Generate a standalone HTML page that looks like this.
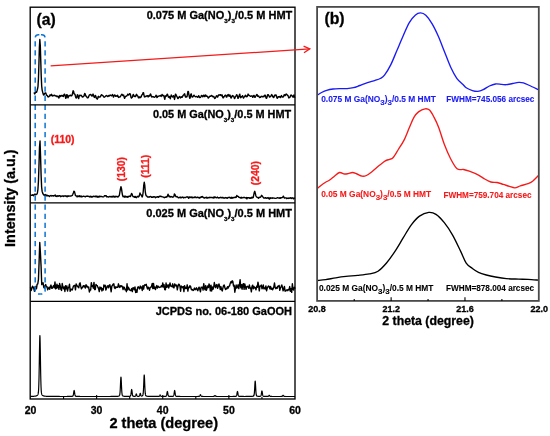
<!DOCTYPE html>
<html><head><meta charset="utf-8"><style>
html,body{margin:0;padding:0;background:#fff;}
svg{display:block;}
text.s{stroke-width:0.08px}
text{stroke-width:0.3px;font-family:"Liberation Sans",Arial,sans-serif;font-weight:bold;}
</style></head><body>
<svg width="550" height="436" viewBox="0 0 550 436">
<rect width="550" height="436" fill="#fff"/>
<g fill="none" stroke="#000" stroke-width="1.4" stroke-linejoin="round">
<polyline points="33.81,93.55 34.27,93.04 34.73,93.93 35.19,93.10 35.66,91.76 36.12,92.12 36.58,92.21 37.05,90.76 37.51,89.04 37.97,86.51 38.44,78.97 38.90,64.44 39.36,48.04 39.82,39.47 40.29,45.49 40.75,60.36 41.21,75.73 41.68,86.04 42.14,90.11 42.60,91.85 43.06,93.62 43.53,94.97 43.99,94.92 44.45,93.59 44.92,93.14 45.38,92.98 45.84,93.04 46.30,94.63 46.77,95.36 47.23,95.42 47.69,96.60 48.16,97.02 48.62,96.51 49.08,96.50 49.54,95.87 50.01,94.92 50.47,95.69 50.93,95.51 51.40,94.29 51.86,94.90 52.32,95.83 52.78,95.96 53.25,95.52 53.71,95.52 54.17,95.50 54.64,95.23 55.10,95.72 55.56,96.05 56.02,95.81 56.49,95.91 56.95,96.73 57.41,96.67 57.88,96.10 58.34,96.80 58.80,98.03 59.26,97.25 59.73,95.50 60.19,96.04 60.65,96.54 61.12,95.40 61.58,95.35 62.04,95.87 62.50,95.44 62.97,96.32 63.43,96.52 63.89,94.75 64.36,94.14 64.82,94.54 65.28,96.13 65.74,98.29 66.21,97.58 66.67,94.82 67.13,94.77 67.60,96.95 68.06,97.83 68.52,96.60 68.98,95.45 69.45,95.73 69.91,95.82 70.37,95.23 70.84,95.13 71.30,95.80 71.76,95.79 72.22,94.66 72.69,92.71 73.15,90.76 73.61,91.49 74.08,93.82 74.54,94.00 75.00,94.35 75.47,96.42 75.93,97.87 76.39,98.08 76.85,96.69 77.32,94.80 77.78,94.95 78.24,97.68 78.71,98.57 79.17,96.07 79.63,95.23 80.09,95.82 80.56,95.33 81.02,95.16 81.48,95.60 81.95,96.51 82.41,97.11 82.87,96.95 83.33,96.67 83.80,96.19 84.26,95.11 84.72,93.47 85.19,94.02 85.65,95.80 86.11,96.11 86.57,96.54 87.04,97.43 87.50,97.90 87.96,97.89 88.43,97.32 88.89,96.08 89.35,94.99 89.81,94.80 90.28,94.71 90.74,94.50 91.20,94.96 91.67,95.83 92.13,96.09 92.59,94.96 93.05,94.06 93.52,95.20 93.98,96.76 94.44,97.47 94.91,96.82 95.37,95.41 95.83,96.04 96.29,97.99 96.76,98.60 97.22,99.16 97.68,98.57 98.15,96.51 98.61,96.29 99.07,96.97 99.53,97.10 100.00,96.97 100.46,96.63 100.92,95.66 101.39,94.70 101.85,94.90 102.31,95.39 102.77,95.66 103.24,96.03 103.70,96.87 104.16,97.33 104.63,96.95 105.09,96.61 105.55,96.15 106.01,95.68 106.48,95.53 106.94,95.77 107.40,96.27 107.87,96.61 108.33,96.07 108.79,95.58 109.25,95.99 109.72,95.50 110.18,95.00 110.64,95.35 111.11,95.66 111.57,95.89 112.03,95.25 112.50,94.48 112.96,95.47 113.42,97.01 113.88,96.26 114.35,95.08 114.81,94.89 115.27,95.54 115.74,96.39 116.20,95.79 116.66,96.14 117.12,96.21 117.59,95.19 118.05,96.22 118.51,97.44 118.98,97.16 119.44,97.02 119.90,97.15 120.36,96.64 120.83,95.76 121.29,95.00 121.75,94.28 122.22,94.45 122.68,95.50 123.14,95.28 123.60,94.98 124.07,96.75 124.53,98.36 124.99,97.61 125.46,96.46 125.92,96.37 126.38,96.02 126.84,95.89 127.31,95.12 127.77,94.14 128.23,94.80 128.70,94.99 129.16,94.36 129.62,93.77 130.08,93.64 130.55,94.99 131.01,97.31 131.47,98.14 131.94,97.47 132.40,97.09 132.86,95.57 133.32,94.35 133.79,95.65 134.25,96.49 134.71,96.15 135.18,96.55 135.64,96.47 136.10,94.96 136.56,94.29 137.03,95.18 137.49,95.71 137.95,96.20 138.42,97.73 138.88,98.04 139.34,96.87 139.80,97.00 140.27,97.59 140.73,97.52 141.19,96.70 141.66,95.21 142.12,94.76 142.58,94.35 143.04,92.73 143.51,92.67 143.97,95.06 144.43,96.93 144.90,96.48 145.36,96.38 145.82,96.69 146.28,95.92 146.75,96.03 147.21,95.83 147.67,95.63 148.14,96.94 148.60,96.55 149.06,95.56 149.53,96.03 149.99,95.20 150.45,93.91 150.91,94.81 151.38,96.45 151.84,97.03 152.30,96.71 152.77,96.57 153.23,96.60 153.69,96.81 154.15,97.31 154.62,97.07 155.08,96.84 155.54,96.39 156.01,95.17 156.47,95.80 156.93,97.51 157.39,97.15 157.86,96.30 158.32,96.21 158.78,96.09 159.25,95.97 159.71,95.89 160.17,95.46 160.63,95.52 161.10,96.52 161.56,95.65 162.02,94.42 162.49,95.13 162.95,95.87 163.41,95.69 163.87,95.44 164.34,97.79 164.80,99.25 165.26,96.92 165.73,95.83 166.19,96.22 166.65,95.44 167.11,94.11 167.58,94.54 168.04,96.13 168.50,97.21 168.97,97.45 169.43,96.45 169.89,97.46 170.35,98.72 170.82,96.49 171.28,95.04 171.74,95.78 172.21,96.60 172.67,97.10 173.13,96.43 173.59,95.71 174.06,97.35 174.52,99.44 174.98,97.39 175.45,94.18 175.91,94.41 176.37,95.67 176.83,96.36 177.30,97.30 177.76,98.43 178.22,98.46 178.69,97.62 179.15,96.84 179.61,96.47 180.07,97.17 180.54,97.89 181.00,97.20 181.46,96.78 181.93,97.38 182.39,96.99 182.85,95.89 183.31,95.20 183.78,95.03 184.24,94.05 184.70,93.77 185.17,96.11 185.63,97.08 186.09,96.67 186.56,97.07 187.02,96.69 187.48,94.24 187.94,91.47 188.41,91.71 188.87,94.27 189.33,96.85 189.80,98.38 190.26,97.47 190.72,94.61 191.18,93.81 191.65,95.71 192.11,96.96 192.57,97.08 193.04,96.67 193.50,95.69 193.96,95.15 194.42,95.76 194.89,96.22 195.35,96.60 195.81,96.80 196.28,96.52 196.74,96.50 197.20,96.76 197.66,97.21 198.13,96.84 198.59,95.72 199.05,96.28 199.52,97.59 199.98,97.47 200.44,97.35 200.90,96.85 201.37,95.58 201.83,95.37 202.29,96.16 202.76,96.87 203.22,96.38 203.68,95.10 204.14,95.08 204.61,96.66 205.07,96.63 205.53,95.02 206.00,95.33 206.46,96.18 206.92,96.20 207.38,96.20 207.85,97.13 208.31,98.09 208.77,97.56 209.24,97.03 209.70,96.49 210.16,96.01 210.62,96.35 211.09,95.96 211.55,95.41 212.01,95.76 212.48,96.41 212.94,96.87 213.40,96.35 213.86,96.45 214.33,97.87 214.79,98.49 215.25,98.23 215.72,97.40 216.18,96.27 216.64,95.71 217.10,96.27 217.57,97.10 218.03,96.14 218.49,94.93 218.96,94.89 219.42,95.02 219.88,95.21 220.34,94.64 220.81,94.59 221.27,95.77 221.73,95.49 222.20,95.04 222.66,97.23 223.12,97.98 223.59,96.77 224.05,96.98 224.51,96.27 224.97,95.42 225.44,95.21 225.90,95.46 226.36,97.06 226.83,97.01 227.29,95.69 227.75,94.97 228.21,94.57 228.68,95.69 229.14,96.20 229.60,94.92 230.07,95.15 230.53,96.72 230.99,97.98 231.45,97.84 231.92,96.15 232.38,95.59 232.84,96.20 233.31,96.02 233.77,96.34 234.23,97.95 234.69,98.51 235.16,97.25 235.62,96.51 236.08,95.85 236.55,94.78 237.01,94.89 237.47,96.41 237.93,98.38 238.40,98.16 238.86,96.67 239.32,95.00 239.79,94.18 240.25,96.55 240.71,97.82 241.17,96.70 241.64,96.93 242.10,96.57 242.56,95.62 243.03,97.08 243.49,98.11 243.95,97.11 244.41,96.71 244.88,96.28 245.34,95.26 245.80,96.15 246.27,96.74 246.73,96.09 247.19,96.45 247.65,95.39 248.12,94.09 248.58,94.76 249.04,95.48 249.51,95.59 249.97,95.84 250.43,96.38 250.89,96.26 251.36,96.00 251.82,95.75 252.28,96.27 252.75,97.36 253.21,96.87 253.67,95.44 254.13,95.48 254.60,97.14 255.06,97.37 255.52,96.45 255.99,95.89 256.45,94.97 256.91,94.47 257.37,95.21 257.84,96.38 258.30,96.39 258.76,96.08 259.23,97.01 259.69,97.46 260.15,97.31 260.62,97.22 261.08,96.46 261.54,96.28 262.00,96.67 262.47,96.86 262.93,96.44 263.39,96.16 263.86,96.68 264.32,96.15 264.78,95.13 265.24,95.21 265.71,96.81 266.17,98.28 266.63,98.29 267.10,96.85 267.56,94.86 268.02,94.61 268.48,95.06 268.95,95.73 269.41,97.00 269.87,96.99 270.34,96.59 270.80,96.30 271.26,95.21 271.72,94.58 272.19,95.28 272.65,96.51 273.11,97.12 273.58,97.51 274.04,96.94 274.50,95.27 274.96,95.20 275.43,95.54 275.89,94.85 276.35,95.64 276.82,97.52 277.28,98.31 277.74,97.85 278.20,96.74 278.67,96.63 279.13,97.04 279.59,96.61 280.06,97.06 280.52,97.53 280.98,96.29 281.44,95.55 281.91,96.28 282.37,97.08 282.83,97.10 283.30,96.93 283.76,96.14 284.22,94.65 284.68,94.82 285.15,95.61 285.61,94.87 286.07,94.03 286.54,94.10 287.00,94.78 287.46,95.22 287.92,95.36 288.39,96.83 288.85,97.93 289.31,97.55 289.78,97.56 290.24,96.64 290.70,95.26 291.16,95.07 291.63,95.62 292.09,96.02 292.55,96.20 293.02,97.27 293.48,96.51 293.94,95.04 294.40,96.81 294.87,97.75"/>
<polyline points="30.50,195.50 31.03,195.26 31.56,195.30 32.09,195.31 32.62,194.79 33.14,195.38 33.67,195.77 34.20,194.41 34.73,194.29 35.26,194.24 35.79,194.87 36.32,194.34 36.85,194.19 37.38,192.96 37.91,189.62 38.43,181.46 38.96,165.72 39.49,147.44 40.02,141.05 40.55,156.00 41.08,174.61 41.61,187.02 42.14,191.38 42.67,193.15 43.20,194.06 43.72,194.98 44.25,194.82 44.78,195.54 45.31,194.56 45.84,195.72 46.37,195.77 46.90,194.98 47.43,195.59 47.96,196.01 48.49,195.66 49.01,196.01 49.54,196.53 50.07,195.82 50.60,195.65 51.13,195.51 51.66,196.02 52.19,195.75 52.72,195.78 53.25,195.82 53.78,196.10 54.30,195.52 54.83,195.37 55.36,195.07 55.89,196.36 56.42,195.98 56.95,196.49 57.48,195.97 58.01,195.73 58.54,196.17 59.07,195.99 59.59,195.59 60.12,195.73 60.65,196.67 61.18,196.18 61.71,196.22 62.24,195.98 62.77,195.85 63.30,196.41 63.83,196.07 64.36,195.85 64.88,196.08 65.41,195.82 65.94,196.21 66.47,196.54 67.00,195.86 67.53,196.66 68.06,195.93 68.59,196.22 69.12,195.87 69.65,196.08 70.17,196.16 70.70,195.98 71.23,195.84 71.76,195.76 72.29,195.40 72.82,194.25 73.35,192.97 73.88,191.29 74.41,191.48 74.94,193.32 75.46,195.70 75.99,195.85 76.52,195.91 77.05,196.84 77.58,195.87 78.11,196.61 78.64,195.96 79.17,196.44 79.70,195.65 80.23,196.67 80.75,196.31 81.28,196.04 81.81,196.97 82.34,196.67 82.87,196.42 83.40,196.16 83.93,196.41 84.46,196.38 84.99,196.70 85.52,196.73 86.04,196.22 86.57,196.27 87.10,196.29 87.63,196.01 88.16,196.28 88.69,196.46 89.22,196.74 89.75,196.97 90.28,196.23 90.81,196.72 91.33,196.37 91.86,197.26 92.39,196.53 92.92,196.73 93.45,196.23 93.98,196.28 94.51,196.64 95.04,196.44 95.57,196.70 96.10,196.04 96.62,196.82 97.15,196.28 97.68,197.21 98.21,196.51 98.74,197.00 99.27,196.13 99.80,196.77 100.33,196.32 100.86,196.46 101.39,196.65 101.91,196.53 102.44,196.73 102.97,196.90 103.50,196.84 104.03,196.46 104.56,195.73 105.09,195.62 105.62,195.97 106.15,195.65 106.68,196.86 107.20,196.58 107.73,196.60 108.26,197.03 108.79,196.94 109.32,196.79 109.85,196.36 110.38,196.83 110.91,196.84 111.44,196.42 111.97,197.09 112.49,196.91 113.02,196.04 113.55,196.77 114.08,196.28 114.61,197.12 115.14,197.00 115.67,196.32 116.20,196.38 116.73,196.70 117.26,196.54 117.78,197.09 118.31,196.70 118.84,196.00 119.37,195.26 119.90,191.83 120.43,188.80 120.96,186.65 121.49,188.64 122.02,192.31 122.55,195.28 123.07,196.82 123.60,196.55 124.13,196.22 124.66,197.18 125.19,196.07 125.72,196.93 126.25,196.57 126.78,197.12 127.31,196.51 127.84,197.27 128.36,196.91 128.89,196.19 129.42,196.07 129.95,196.51 130.48,196.56 131.01,194.89 131.54,193.51 132.07,193.98 132.60,195.85 133.13,196.60 133.65,196.84 134.18,196.48 134.71,197.26 135.24,197.34 135.77,196.41 136.30,197.67 136.83,197.11 137.36,196.67 137.89,196.13 138.42,196.92 138.94,196.49 139.47,194.99 140.00,193.03 140.53,194.00 141.06,194.84 141.59,195.82 142.12,197.03 142.65,195.72 143.18,192.02 143.71,185.71 144.23,182.25 144.76,185.10 145.29,191.79 145.82,194.82 146.35,195.81 146.88,196.06 147.41,196.95 147.94,196.88 148.47,196.96 149.00,197.25 149.52,196.69 150.05,196.58 150.58,196.41 151.11,196.93 151.64,197.33 152.17,197.02 152.70,197.31 153.23,196.68 153.76,196.94 154.29,196.84 154.81,196.68 155.34,197.77 155.87,197.42 156.40,196.86 156.93,196.86 157.46,197.11 157.99,196.62 158.52,197.24 159.05,196.48 159.58,196.48 160.10,196.02 160.63,196.45 161.16,196.48 161.69,196.56 162.22,196.82 162.75,196.93 163.28,197.08 163.81,197.21 164.34,197.72 164.87,197.46 165.39,197.07 165.92,197.38 166.45,196.75 166.98,197.01 167.51,195.68 168.04,194.27 168.57,195.76 169.10,196.80 169.63,196.06 170.16,196.88 170.68,197.01 171.21,196.51 171.74,196.81 172.27,196.83 172.80,197.25 173.33,196.80 173.86,196.55 174.39,193.98 174.92,194.53 175.45,195.67 175.97,196.82 176.50,196.71 177.03,196.55 177.56,196.99 178.09,197.55 178.62,197.86 179.15,197.53 179.68,197.50 180.21,197.04 180.74,197.88 181.26,197.82 181.79,197.17 182.32,197.35 182.85,197.02 183.38,197.89 183.91,197.52 184.44,197.35 184.97,197.53 185.50,197.55 186.03,197.26 186.55,196.97 187.08,196.96 187.61,196.80 188.14,197.58 188.67,198.20 189.20,196.83 189.73,197.48 190.26,197.58 190.79,197.09 191.32,197.51 191.84,197.06 192.37,197.87 192.90,197.25 193.43,197.49 193.96,197.70 194.49,197.32 195.02,196.84 195.55,197.29 196.08,197.74 196.61,197.45 197.13,197.56 197.66,197.11 198.19,197.54 198.72,197.74 199.25,197.50 199.78,198.15 200.31,197.40 200.84,197.06 201.37,196.66 201.90,197.23 202.42,196.51 202.95,197.19 203.48,197.41 204.01,198.01 204.54,197.95 205.07,197.39 205.60,197.63 206.13,197.93 206.66,197.12 207.19,198.07 207.71,197.99 208.24,197.91 208.77,197.50 209.30,197.69 209.83,197.19 210.36,197.61 210.89,197.39 211.42,197.63 211.95,197.43 212.48,197.70 213.00,198.02 213.53,197.16 214.06,197.94 214.59,196.92 215.12,196.87 215.65,197.59 216.18,197.64 216.71,197.79 217.24,197.06 217.77,197.62 218.29,197.69 218.82,198.09 219.35,197.62 219.88,197.85 220.41,197.32 220.94,197.60 221.47,197.52 222.00,197.92 222.53,197.33 223.06,197.39 223.58,197.89 224.11,198.32 224.64,197.83 225.17,197.80 225.70,197.58 226.23,198.09 226.76,197.90 227.29,198.32 227.82,197.83 228.35,197.39 228.87,197.52 229.40,197.38 229.93,197.29 230.46,198.17 230.99,198.01 231.52,197.30 232.05,198.36 232.58,197.82 233.11,197.40 233.64,197.86 234.16,197.70 234.69,197.43 235.22,196.98 235.75,197.52 236.28,197.22 236.81,195.52 237.34,196.02 237.87,196.28 238.40,196.64 238.93,197.41 239.45,197.53 239.98,197.43 240.51,197.63 241.04,198.25 241.57,197.28 242.10,197.88 242.63,197.87 243.16,197.56 243.69,197.66 244.22,197.33 244.74,197.52 245.27,197.83 245.80,197.94 246.33,197.52 246.86,198.90 247.39,197.63 247.92,197.88 248.45,197.75 248.98,197.69 249.51,198.27 250.03,197.64 250.56,198.26 251.09,198.17 251.62,197.36 252.15,198.01 252.68,197.16 253.21,197.58 253.74,194.81 254.27,192.40 254.80,191.34 255.32,193.37 255.85,195.71 256.38,196.77 256.91,197.14 257.44,197.48 257.97,197.71 258.50,198.32 259.03,197.22 259.56,197.62 260.09,197.43 260.61,196.97 261.14,196.30 261.67,195.35 262.20,195.93 262.73,196.70 263.26,197.35 263.79,198.03 264.32,198.00 264.85,197.85 265.38,198.08 265.90,197.67 266.43,198.19 266.96,198.15 267.49,197.85 268.02,197.57 268.55,198.54 269.08,198.04 269.61,199.08 270.14,197.79 270.67,198.32 271.19,197.88 271.72,198.12 272.25,198.33 272.78,197.76 273.31,198.01 273.84,198.11 274.37,198.10 274.90,198.27 275.43,198.42 275.96,198.36 276.48,198.16 277.01,197.95 277.54,197.68 278.07,197.82 278.60,197.90 279.13,198.32 279.66,197.96 280.19,197.65 280.72,198.29 281.25,197.76 281.77,197.65 282.30,197.47 282.83,197.20 283.36,196.19 283.89,197.17 284.42,198.00 284.95,197.94 285.48,197.81 286.01,197.94 286.54,198.62 287.06,197.98 287.59,198.40 288.12,198.43 288.65,198.00 289.18,198.32 289.71,198.01 290.24,197.96 290.77,197.79 291.30,198.49 291.83,198.05 292.35,198.00 292.88,197.80 293.41,198.84 293.94,198.47 294.47,198.16 295.00,197.97"/>
<polyline points="30.50,287.30 31.16,290.55 31.82,288.48 32.48,286.29 33.15,286.97 33.81,288.47 34.47,291.34 35.13,286.61 35.79,286.49 36.45,288.83 37.11,284.31 37.77,283.86 38.44,279.66 39.10,261.87 39.76,242.53 40.42,253.21 41.08,266.19 41.74,284.67 42.40,283.42 43.06,282.67 43.73,287.05 44.39,288.10 45.05,285.79 45.71,284.51 46.37,286.86 47.03,286.72 47.69,289.80 48.35,288.43 49.02,287.29 49.68,289.24 50.34,286.50 51.00,285.02 51.66,288.23 52.32,288.28 52.98,286.66 53.64,285.52 54.31,287.71 54.97,282.06 55.63,288.82 56.29,288.48 56.95,284.09 57.61,287.73 58.27,285.66 58.93,289.35 59.60,283.56 60.26,285.97 60.92,289.45 61.58,290.44 62.24,283.52 62.90,287.04 63.56,288.81 64.22,286.85 64.89,291.48 65.55,285.63 66.21,288.86 66.87,285.89 67.53,291.00 68.19,287.96 68.85,287.16 69.51,284.27 70.18,291.33 70.84,289.29 71.50,289.20 72.16,289.91 72.82,288.16 73.48,285.98 74.14,285.53 74.80,285.43 75.47,289.88 76.13,283.84 76.79,285.56 77.45,286.04 78.11,287.11 78.77,287.77 79.43,283.87 80.09,282.80 80.76,286.37 81.42,288.89 82.08,287.91 82.74,286.75 83.40,285.63 84.06,286.92 84.72,285.81 85.38,288.06 86.05,284.71 86.71,286.70 87.37,286.24 88.03,287.67 88.69,287.06 89.35,292.01 90.01,289.87 90.67,289.94 91.34,282.58 92.00,286.22 92.66,285.72 93.32,288.18 93.98,282.33 94.64,289.64 95.30,289.46 95.96,284.52 96.63,285.23 97.29,285.63 97.95,287.41 98.61,288.67 99.27,291.63 99.93,286.90 100.59,288.91 101.25,287.59 101.92,290.93 102.58,288.75 103.24,290.02 103.90,284.83 104.56,286.64 105.22,285.28 105.88,290.10 106.54,288.26 107.21,286.19 107.87,285.83 108.53,287.75 109.19,285.22 109.85,284.71 110.51,287.65 111.17,291.79 111.83,286.09 112.50,285.44 113.16,284.16 113.82,283.83 114.48,287.77 115.14,288.49 115.80,286.78 116.46,287.51 117.12,287.13 117.79,287.25 118.45,283.83 119.11,286.16 119.77,287.45 120.43,285.67 121.09,286.41 121.75,285.79 122.41,286.91 123.08,289.49 123.74,286.94 124.40,287.56 125.06,289.67 125.72,289.39 126.38,291.67 127.04,283.77 127.70,290.01 128.37,287.24 129.03,288.56 129.69,290.05 130.35,290.57 131.01,290.47 131.67,288.59 132.33,291.61 132.99,287.60 133.66,287.84 134.32,289.76 134.98,286.85 135.64,292.47 136.30,289.99 136.96,292.34 137.62,287.62 138.28,286.78 138.95,287.85 139.61,288.95 140.27,286.08 140.93,288.02 141.59,287.11 142.25,290.46 142.91,285.61 143.57,289.14 144.24,285.53 144.90,284.82 145.56,285.31 146.22,284.28 146.88,287.07 147.54,288.92 148.20,287.10 148.86,288.08 149.53,290.21 150.19,287.38 150.85,287.26 151.51,286.31 152.17,283.55 152.83,288.57 153.49,283.34 154.15,288.45 154.82,287.10 155.48,289.55 156.14,287.09 156.80,285.55 157.46,288.06 158.12,286.17 158.78,286.99 159.44,287.48 160.11,287.12 160.77,287.01 161.43,285.66 162.09,286.99 162.75,282.88 163.41,287.01 164.07,284.78 164.73,289.60 165.40,289.86 166.06,283.03 166.72,287.37 167.38,286.73 168.04,284.72 168.70,287.96 169.36,285.79 170.02,282.97 170.69,286.05 171.35,286.23 172.01,286.69 172.67,283.82 173.33,287.64 173.99,287.85 174.65,283.86 175.31,284.85 175.98,286.04 176.64,285.01 177.30,289.87 177.96,286.65 178.62,284.12 179.28,284.62 179.94,286.20 180.60,291.20 181.27,286.07 181.93,286.79 182.59,287.68 183.25,286.61 183.91,291.58 184.57,285.77 185.23,288.55 185.89,287.43 186.56,288.51 187.22,284.83 187.88,291.12 188.54,287.25 189.20,287.67 189.86,285.72 190.52,286.23 191.18,289.02 191.85,289.96 192.51,289.53 193.17,290.52 193.83,289.52 194.49,288.10 195.15,289.80 195.81,289.29 196.47,287.82 197.14,289.54 197.80,290.68 198.46,288.43 199.12,287.15 199.78,289.35 200.44,291.78 201.10,287.28 201.76,287.46 202.43,287.30 203.09,290.09 203.75,283.60 204.41,288.16 205.07,289.84 205.73,285.57 206.39,290.35 207.05,288.31 207.72,285.99 208.38,287.55 209.04,283.87 209.70,285.90 210.36,290.92 211.02,285.21 211.68,290.97 212.34,286.95 213.01,289.24 213.67,287.27 214.33,282.52 214.99,286.07 215.65,287.72 216.31,284.96 216.97,284.60 217.63,288.26 218.30,286.18 218.96,284.03 219.62,286.21 220.28,289.50 220.94,286.73 221.60,289.73 222.26,290.99 222.92,287.87 223.59,285.44 224.25,285.07 224.91,287.73 225.57,289.61 226.23,288.28 226.89,288.81 227.55,286.65 228.21,288.09 228.88,286.25 229.54,286.15 230.20,283.38 230.86,281.69 231.52,282.78 232.18,280.82 232.84,281.58 233.50,286.02 234.17,285.29 234.83,292.20 235.49,288.26 236.15,285.04 236.81,287.98 237.47,287.05 238.13,284.81 238.79,288.52 239.46,284.53 240.12,279.71 240.78,287.77 241.44,284.79 242.10,289.21 242.76,284.73 243.42,283.63 244.08,289.39 244.75,283.92 245.41,286.65 246.07,289.33 246.73,286.59 247.39,286.25 248.05,286.72 248.71,288.35 249.37,284.98 250.04,288.04 250.70,288.06 251.36,291.84 252.02,286.32 252.68,285.19 253.34,288.74 254.00,286.43 254.66,287.94 255.33,287.68 255.99,289.90 256.65,286.12 257.31,287.34 257.97,282.20 258.63,285.70 259.29,290.81 259.95,286.15 260.62,286.10 261.28,284.99 261.94,288.74 262.60,287.87 263.26,284.96 263.92,288.81 264.58,287.91 265.24,288.90 265.91,285.92 266.57,290.86 267.23,288.03 267.89,286.87 268.55,285.99 269.21,286.52 269.87,288.81 270.53,286.41 271.20,289.22 271.86,288.17 272.52,289.77 273.18,288.66 273.84,286.83 274.50,282.98 275.16,287.65 275.82,288.72 276.49,287.46 277.15,288.34 277.81,286.24 278.47,286.50 279.13,285.40 279.79,290.32 280.45,287.87 281.11,286.58 281.78,284.90 282.44,287.46 283.10,290.88 283.76,288.90 284.42,286.47 285.08,291.06 285.74,291.11 286.40,290.21 287.07,289.84 287.73,290.64 288.39,289.37 289.05,289.85 289.71,286.58 290.37,291.35 291.03,288.65 291.69,292.38 292.36,283.78 293.02,289.49 293.68,290.00 294.34,287.14 295.00,288.72"/>
<polyline points="30.50,396.41 30.63,396.40 30.76,396.40 30.90,396.40 31.03,396.40 31.16,396.39 31.29,396.39 31.43,396.39 31.56,396.38 31.69,396.38 31.82,396.37 31.95,396.37 32.09,396.37 32.22,396.36 32.35,396.36 32.48,396.35 32.62,396.35 32.75,396.34 32.88,396.33 33.01,396.33 33.14,396.32 33.28,396.31 33.41,396.31 33.54,396.30 33.67,396.29 33.81,396.28 33.94,396.27 34.07,396.26 34.20,396.25 34.34,396.24 34.47,396.22 34.60,396.21 34.73,396.20 34.86,396.18 35.00,396.16 35.13,396.14 35.26,396.12 35.39,396.10 35.53,396.08 35.66,396.05 35.79,396.02 35.92,395.99 36.05,395.96 36.19,395.92 36.32,395.88 36.45,395.83 36.58,395.78 36.72,395.72 36.85,395.65 36.98,395.58 37.11,395.49 37.24,395.39 37.38,395.28 37.51,395.14 37.64,394.98 37.77,394.79 37.91,394.53 38.04,394.18 38.17,393.69 38.30,392.95 38.43,391.84 38.57,390.18 38.70,387.75 38.83,384.32 38.96,379.70 39.10,373.80 39.23,366.69 39.36,358.71 39.49,350.47 39.63,342.96 39.76,337.52 39.89,335.50 40.02,337.52 40.15,342.96 40.29,350.47 40.42,358.71 40.55,366.69 40.68,373.80 40.82,379.70 40.95,384.32 41.08,387.75 41.21,390.18 41.34,391.84 41.48,392.95 41.61,393.69 41.74,394.18 41.87,394.53 42.01,394.79 42.14,394.98 42.27,395.14 42.40,395.28 42.53,395.39 42.67,395.49 42.80,395.58 42.93,395.65 43.06,395.72 43.20,395.78 43.33,395.83 43.46,395.88 43.59,395.92 43.72,395.96 43.86,395.99 43.99,396.02 44.12,396.05 44.25,396.08 44.39,396.10 44.52,396.12 44.65,396.14 44.78,396.16 44.92,396.18 45.05,396.20 45.18,396.21 45.31,396.22 45.44,396.24 45.58,396.25 45.71,396.26 45.84,396.27 45.97,396.28 46.11,396.29 46.24,396.30 46.37,396.31 46.50,396.31 46.63,396.32 46.77,396.33 46.90,396.33 47.03,396.34 47.16,396.35 47.30,396.35 47.43,396.36 47.56,396.36 47.69,396.36 47.82,396.37 47.96,396.37 48.09,396.38 48.22,396.38 48.35,396.38 48.49,396.39 48.62,396.39 48.75,396.39 48.88,396.40 49.01,396.40 49.15,396.40 49.28,396.41 49.41,396.41 49.54,396.41 49.68,396.41 49.81,396.42 49.94,396.42 50.07,396.42 50.21,396.42 50.34,396.42 50.47,396.43 50.60,396.43 50.73,396.43 50.87,396.43 51.00,396.43 51.13,396.43 51.26,396.43 51.40,396.44 51.53,396.44 51.66,396.44 51.79,396.44 51.92,396.44 52.06,396.44 52.19,396.44 52.32,396.45 52.45,396.45 52.59,396.45 52.72,396.45 52.85,396.45 52.98,396.45 53.11,396.45 53.25,396.45 53.38,396.45 53.51,396.45 53.64,396.45 53.78,396.46 53.91,396.46 54.04,396.46 54.17,396.46 54.30,396.46 54.44,396.46 54.57,396.46 54.70,396.46 54.83,396.46 54.97,396.46 55.10,396.46 55.23,396.46 55.36,396.46 55.50,396.46 55.63,396.46 55.76,396.46 55.89,396.47 56.02,396.47 56.16,396.47 56.29,396.47 56.42,396.47 56.55,396.47 56.69,396.47 56.82,396.47 56.95,396.47 57.08,396.47 57.21,396.47 57.35,396.47 57.48,396.47 57.61,396.47 57.74,396.47 57.88,396.47 58.01,396.47 58.14,396.47 58.27,396.47 58.40,396.47 58.54,396.47 58.67,396.47 58.80,396.47 58.93,396.47 59.07,396.47 59.20,396.47 59.33,396.47 59.46,396.47 59.59,396.47 59.73,396.48 59.86,396.48 59.99,396.48 60.12,396.48 60.26,396.48 60.39,396.48 60.52,396.48 60.65,396.48 60.79,396.48 60.92,396.48 61.05,396.48 61.18,396.48 61.31,396.48 61.45,396.48 61.58,396.48 61.71,396.48 61.84,396.48 61.98,396.48 62.11,396.48 62.24,396.48 62.37,396.48 62.50,396.48 62.64,396.48 62.77,396.48 62.90,396.48 63.03,396.48 63.17,396.48 63.30,396.48 63.43,396.48 63.56,396.48 63.69,396.48 63.83,396.48 63.96,396.48 64.09,396.48 64.22,396.48 64.36,396.48 64.49,396.48 64.62,396.48 64.75,396.48 64.88,396.48 65.02,396.48 65.15,396.48 65.28,396.48 65.41,396.48 65.55,396.48 65.68,396.48 65.81,396.48 65.94,396.48 66.08,396.48 66.21,396.48 66.34,396.48 66.47,396.48 66.60,396.48 66.74,396.48 66.87,396.48 67.00,396.48 67.13,396.47 67.27,396.47 67.40,396.47 67.53,396.47 67.66,396.47 67.79,396.47 67.93,396.47 68.06,396.47 68.19,396.47 68.32,396.47 68.46,396.47 68.59,396.47 68.72,396.47 68.85,396.47 68.98,396.47 69.12,396.46 69.25,396.46 69.38,396.46 69.51,396.46 69.65,396.46 69.78,396.46 69.91,396.45 70.04,396.45 70.17,396.45 70.31,396.45 70.44,396.44 70.57,396.44 70.70,396.44 70.84,396.43 70.97,396.43 71.10,396.42 71.23,396.42 71.37,396.41 71.50,396.40 71.63,396.40 71.76,396.39 71.89,396.37 72.03,396.36 72.16,396.34 72.29,396.32 72.42,396.29 72.56,396.25 72.69,396.18 72.82,396.07 72.95,395.91 73.08,395.65 73.22,395.27 73.35,394.73 73.48,394.04 73.61,393.20 73.75,392.29 73.88,391.41 74.01,390.74 74.14,390.49 74.27,390.74 74.41,391.41 74.54,392.29 74.67,393.20 74.80,394.04 74.94,394.73 75.07,395.27 75.20,395.65 75.33,395.91 75.46,396.07 75.60,396.18 75.73,396.25 75.86,396.29 75.99,396.32 76.13,396.34 76.26,396.36 76.39,396.37 76.52,396.39 76.66,396.40 76.79,396.41 76.92,396.41 77.05,396.42 77.18,396.43 77.32,396.43 77.45,396.44 77.58,396.44 77.71,396.44 77.85,396.45 77.98,396.45 78.11,396.45 78.24,396.46 78.37,396.46 78.51,396.46 78.64,396.46 78.77,396.46 78.90,396.47 79.04,396.47 79.17,396.47 79.30,396.47 79.43,396.47 79.56,396.47 79.70,396.47 79.83,396.47 79.96,396.47 80.09,396.48 80.23,396.48 80.36,396.48 80.49,396.48 80.62,396.48 80.75,396.48 80.89,396.48 81.02,396.48 81.15,396.48 81.28,396.48 81.42,396.48 81.55,396.48 81.68,396.48 81.81,396.48 81.95,396.48 82.08,396.48 82.21,396.48 82.34,396.48 82.47,396.48 82.61,396.48 82.74,396.48 82.87,396.48 83.00,396.49 83.14,396.49 83.27,396.49 83.40,396.49 83.53,396.49 83.66,396.49 83.80,396.49 83.93,396.49 84.06,396.49 84.19,396.49 84.33,396.49 84.46,396.49 84.59,396.49 84.72,396.49 84.85,396.49 84.99,396.49 85.12,396.49 85.25,396.49 85.38,396.49 85.52,396.49 85.65,396.49 85.78,396.49 85.91,396.49 86.04,396.49 86.18,396.49 86.31,396.49 86.44,396.49 86.57,396.49 86.71,396.49 86.84,396.49 86.97,396.49 87.10,396.49 87.24,396.49 87.37,396.49 87.50,396.49 87.63,396.49 87.76,396.49 87.90,396.49 88.03,396.49 88.16,396.49 88.29,396.49 88.43,396.49 88.56,396.49 88.69,396.49 88.82,396.49 88.95,396.49 89.09,396.49 89.22,396.49 89.35,396.49 89.48,396.49 89.62,396.49 89.75,396.49 89.88,396.49 90.01,396.49 90.14,396.49 90.28,396.49 90.41,396.49 90.54,396.49 90.67,396.49 90.81,396.49 90.94,396.49 91.07,396.49 91.20,396.49 91.33,396.49 91.47,396.49 91.60,396.49 91.73,396.49 91.86,396.49 92.00,396.49 92.13,396.49 92.26,396.49 92.39,396.49 92.53,396.49 92.66,396.49 92.79,396.49 92.92,396.49 93.05,396.49 93.19,396.49 93.32,396.49 93.45,396.49 93.58,396.49 93.72,396.49 93.85,396.49 93.98,396.49 94.11,396.49 94.24,396.49 94.38,396.49 94.51,396.49 94.64,396.49 94.77,396.49 94.91,396.49 95.04,396.49 95.17,396.49 95.30,396.49 95.43,396.49 95.57,396.49 95.70,396.49 95.83,396.49 95.96,396.49 96.10,396.49 96.23,396.49 96.36,396.49 96.49,396.49 96.62,396.49 96.76,396.49 96.89,396.49 97.02,396.49 97.15,396.49 97.29,396.49 97.42,396.49 97.55,396.49 97.68,396.49 97.82,396.49 97.95,396.49 98.08,396.49 98.21,396.49 98.34,396.49 98.48,396.49 98.61,396.49 98.74,396.49 98.87,396.49 99.01,396.49 99.14,396.49 99.27,396.49 99.40,396.49 99.53,396.49 99.67,396.49 99.80,396.49 99.93,396.49 100.06,396.49 100.20,396.49 100.33,396.49 100.46,396.49 100.59,396.49 100.72,396.49 100.86,396.49 100.99,396.49 101.12,396.49 101.25,396.49 101.39,396.49 101.52,396.49 101.65,396.49 101.78,396.49 101.91,396.49 102.05,396.49 102.18,396.49 102.31,396.49 102.44,396.49 102.58,396.49 102.71,396.49 102.84,396.49 102.97,396.49 103.11,396.49 103.24,396.49 103.37,396.49 103.50,396.49 103.63,396.49 103.77,396.49 103.90,396.49 104.03,396.49 104.16,396.49 104.30,396.49 104.43,396.49 104.56,396.49 104.69,396.49 104.82,396.49 104.96,396.49 105.09,396.49 105.22,396.49 105.35,396.49 105.49,396.49 105.62,396.49 105.75,396.49 105.88,396.49 106.01,396.49 106.15,396.48 106.28,396.48 106.41,396.48 106.54,396.48 106.68,396.48 106.81,396.48 106.94,396.48 107.07,396.48 107.20,396.48 107.34,396.48 107.47,396.48 107.60,396.48 107.73,396.48 107.87,396.48 108.00,396.48 108.13,396.48 108.26,396.48 108.40,396.48 108.53,396.48 108.66,396.48 108.79,396.48 108.92,396.48 109.06,396.48 109.19,396.48 109.32,396.48 109.45,396.48 109.59,396.48 109.72,396.48 109.85,396.48 109.98,396.48 110.11,396.48 110.25,396.48 110.38,396.48 110.51,396.48 110.64,396.47 110.78,396.47 110.91,396.47 111.04,396.47 111.17,396.47 111.30,396.47 111.44,396.47 111.57,396.47 111.70,396.47 111.83,396.47 111.97,396.47 112.10,396.47 112.23,396.47 112.36,396.47 112.49,396.46 112.63,396.46 112.76,396.46 112.89,396.46 113.02,396.46 113.16,396.46 113.29,396.46 113.42,396.46 113.55,396.46 113.69,396.45 113.82,396.45 113.95,396.45 114.08,396.45 114.21,396.45 114.35,396.45 114.48,396.44 114.61,396.44 114.74,396.44 114.88,396.44 115.01,396.44 115.14,396.43 115.27,396.43 115.40,396.43 115.54,396.42 115.67,396.42 115.80,396.42 115.93,396.41 116.07,396.41 116.20,396.40 116.33,396.40 116.46,396.39 116.59,396.39 116.73,396.38 116.86,396.37 116.99,396.36 117.12,396.36 117.26,396.35 117.39,396.34 117.52,396.32 117.65,396.31 117.78,396.29 117.92,396.28 118.05,396.26 118.18,396.24 118.31,396.21 118.45,396.18 118.58,396.15 118.71,396.11 118.84,396.06 118.98,396.01 119.11,395.93 119.24,395.83 119.37,395.69 119.50,395.48 119.64,395.13 119.77,394.59 119.90,393.75 120.03,392.51 120.17,390.77 120.30,388.51 120.43,385.79 120.56,382.82 120.69,379.97 120.83,377.81 120.96,376.99 121.09,377.81 121.22,379.97 121.36,382.82 121.49,385.79 121.62,388.51 121.75,390.77 121.88,392.51 122.02,393.75 122.15,394.59 122.28,395.13 122.41,395.47 122.55,395.69 122.68,395.83 122.81,395.93 122.94,396.00 123.07,396.06 123.21,396.10 123.34,396.14 123.47,396.17 123.60,396.20 123.74,396.23 123.87,396.25 124.00,396.27 124.13,396.28 124.27,396.30 124.40,396.31 124.53,396.32 124.66,396.33 124.79,396.34 124.93,396.35 125.06,396.36 125.19,396.36 125.32,396.37 125.46,396.37 125.59,396.38 125.72,396.38 125.85,396.39 125.98,396.39 126.12,396.39 126.25,396.40 126.38,396.40 126.51,396.40 126.65,396.40 126.78,396.40 126.91,396.40 127.04,396.40 127.17,396.40 127.31,396.40 127.44,396.40 127.57,396.40 127.70,396.40 127.84,396.40 127.97,396.40 128.10,396.40 128.23,396.39 128.36,396.39 128.50,396.39 128.63,396.38 128.76,396.38 128.89,396.37 129.03,396.36 129.16,396.36 129.29,396.35 129.42,396.33 129.56,396.32 129.69,396.30 129.82,396.28 129.95,396.25 130.08,396.21 130.22,396.16 130.35,396.06 130.48,395.91 130.61,395.66 130.75,395.27 130.88,394.70 131.01,393.90 131.14,392.91 131.27,391.78 131.41,390.66 131.54,389.79 131.67,389.46 131.80,389.79 131.94,390.66 132.07,391.78 132.20,392.91 132.33,393.90 132.46,394.69 132.60,395.27 132.73,395.66 132.86,395.90 132.99,396.05 133.13,396.15 133.26,396.20 133.39,396.24 133.52,396.27 133.65,396.29 133.79,396.30 133.92,396.31 134.05,396.32 134.18,396.33 134.32,396.33 134.45,396.33 134.58,396.33 134.71,396.33 134.85,396.32 134.98,396.31 135.11,396.28 135.24,396.23 135.37,396.14 135.51,395.98 135.64,395.74 135.77,395.39 135.90,394.95 136.04,394.47 136.17,394.07 136.30,393.91 136.43,394.07 136.56,394.47 136.70,394.95 136.83,395.39 136.96,395.74 137.09,395.98 137.23,396.14 137.36,396.23 137.49,396.28 137.62,396.30 137.75,396.32 137.89,396.32 138.02,396.33 138.15,396.33 138.28,396.32 138.42,396.32 138.55,396.31 138.68,396.30 138.81,396.29 138.94,396.27 139.08,396.23 139.21,396.17 139.34,396.05 139.47,395.86 139.61,395.56 139.74,395.13 139.87,394.60 140.00,394.02 140.14,393.53 140.27,393.33 140.40,393.52 140.53,393.99 140.66,394.55 140.80,395.06 140.93,395.47 141.06,395.75 141.19,395.92 141.33,396.02 141.46,396.05 141.59,396.06 141.72,396.05 141.85,396.03 141.99,396.00 142.12,395.96 142.25,395.90 142.38,395.83 142.52,395.72 142.65,395.57 142.78,395.34 142.91,394.96 143.04,394.37 143.18,393.45 143.31,392.08 143.44,390.17 143.57,387.67 143.71,384.68 143.84,381.40 143.97,378.26 144.10,375.88 144.23,374.97 144.37,375.88 144.50,378.26 144.63,381.41 144.76,384.69 144.90,387.69 145.03,390.18 145.16,392.09 145.29,393.46 145.43,394.39 145.56,394.99 145.69,395.36 145.82,395.60 145.95,395.76 146.09,395.87 146.22,395.95 146.35,396.01 146.48,396.06 146.62,396.11 146.75,396.15 146.88,396.18 147.01,396.21 147.14,396.23 147.28,396.25 147.41,396.27 147.54,396.29 147.67,396.30 147.81,396.31 147.94,396.33 148.07,396.34 148.20,396.35 148.33,396.36 148.47,396.36 148.60,396.37 148.73,396.38 148.86,396.38 149.00,396.39 149.13,396.40 149.26,396.40 149.39,396.40 149.52,396.41 149.66,396.41 149.79,396.42 149.92,396.42 150.05,396.42 150.19,396.43 150.32,396.43 150.45,396.43 150.58,396.43 150.72,396.44 150.85,396.44 150.98,396.44 151.11,396.44 151.24,396.44 151.38,396.44 151.51,396.45 151.64,396.45 151.77,396.45 151.91,396.45 152.04,396.45 152.17,396.45 152.30,396.45 152.43,396.46 152.57,396.46 152.70,396.46 152.83,396.46 152.96,396.46 153.10,396.46 153.23,396.46 153.36,396.46 153.49,396.46 153.62,396.46 153.76,396.46 153.89,396.46 154.02,396.46 154.15,396.46 154.29,396.47 154.42,396.47 154.55,396.47 154.68,396.47 154.81,396.47 154.95,396.47 155.08,396.47 155.21,396.47 155.34,396.47 155.48,396.47 155.61,396.47 155.74,396.47 155.87,396.47 156.01,396.47 156.14,396.47 156.27,396.47 156.40,396.47 156.53,396.47 156.67,396.47 156.80,396.47 156.93,396.47 157.06,396.47 157.20,396.46 157.33,396.46 157.46,396.46 157.59,396.46 157.72,396.46 157.86,396.46 157.99,396.46 158.12,396.45 158.25,396.45 158.39,396.44 158.52,396.44 158.65,396.43 158.78,396.42 158.91,396.40 159.05,396.37 159.18,396.32 159.31,396.22 159.44,396.07 159.58,395.86 159.71,395.60 159.84,395.31 159.97,395.07 160.10,394.98 160.24,395.07 160.37,395.31 160.50,395.60 160.63,395.86 160.77,396.07 160.90,396.22 161.03,396.31 161.16,396.37 161.30,396.40 161.43,396.42 161.56,396.43 161.69,396.43 161.82,396.44 161.96,396.44 162.09,396.45 162.22,396.45 162.35,396.45 162.49,396.45 162.62,396.45 162.75,396.45 162.88,396.45 163.01,396.45 163.15,396.45 163.28,396.45 163.41,396.45 163.54,396.45 163.68,396.45 163.81,396.44 163.94,396.44 164.07,396.44 164.20,396.44 164.34,396.43 164.47,396.43 164.60,396.42 164.73,396.42 164.87,396.41 165.00,396.41 165.13,396.40 165.26,396.39 165.39,396.37 165.53,396.36 165.66,396.34 165.79,396.31 165.92,396.27 166.06,396.20 166.19,396.09 166.32,395.91 166.45,395.64 166.59,395.22 166.72,394.66 166.85,393.95 166.98,393.14 167.11,392.34 167.25,391.72 167.38,391.48 167.51,391.72 167.64,392.34 167.78,393.14 167.91,393.95 168.04,394.66 168.17,395.22 168.30,395.63 168.44,395.91 168.57,396.09 168.70,396.20 168.83,396.26 168.97,396.30 169.10,396.33 169.23,396.35 169.36,396.36 169.49,396.38 169.63,396.39 169.76,396.39 169.89,396.40 170.02,396.41 170.16,396.41 170.29,396.41 170.42,396.42 170.55,396.42 170.68,396.42 170.82,396.42 170.95,396.42 171.08,396.42 171.21,396.42 171.35,396.42 171.48,396.41 171.61,396.41 171.74,396.41 171.88,396.40 172.01,396.40 172.14,396.39 172.27,396.38 172.40,396.37 172.54,396.36 172.67,396.35 172.80,396.33 172.93,396.31 173.07,396.27 173.20,396.22 173.33,396.14 173.46,396.01 173.59,395.80 173.73,395.47 173.86,394.97 173.99,394.30 174.12,393.44 174.26,392.48 174.39,391.52 174.52,390.77 174.65,390.49 174.78,390.78 174.92,391.52 175.05,392.48 175.18,393.45 175.31,394.30 175.45,394.98 175.58,395.47 175.71,395.81 175.84,396.02 175.97,396.15 176.11,396.23 176.24,396.28 176.37,396.32 176.50,396.34 176.64,396.36 176.77,396.37 176.90,396.39 177.03,396.40 177.17,396.41 177.30,396.42 177.43,396.42 177.56,396.43 177.69,396.43 177.83,396.44 177.96,396.44 178.09,396.45 178.22,396.45 178.36,396.45 178.49,396.46 178.62,396.46 178.75,396.46 178.88,396.46 179.02,396.46 179.15,396.47 179.28,396.47 179.41,396.47 179.55,396.47 179.68,396.47 179.81,396.47 179.94,396.47 180.07,396.47 180.21,396.48 180.34,396.48 180.47,396.48 180.60,396.48 180.74,396.48 180.87,396.48 181.00,396.48 181.13,396.48 181.26,396.48 181.40,396.48 181.53,396.48 181.66,396.48 181.79,396.48 181.93,396.48 182.06,396.48 182.19,396.48 182.32,396.48 182.46,396.48 182.59,396.49 182.72,396.49 182.85,396.49 182.98,396.49 183.12,396.49 183.25,396.49 183.38,396.49 183.51,396.49 183.65,396.49 183.78,396.49 183.91,396.49 184.04,396.49 184.17,396.49 184.31,396.49 184.44,396.49 184.57,396.49 184.70,396.49 184.84,396.49 184.97,396.49 185.10,396.49 185.23,396.49 185.36,396.49 185.50,396.49 185.63,396.49 185.76,396.49 185.89,396.49 186.03,396.49 186.16,396.49 186.29,396.49 186.42,396.49 186.55,396.49 186.69,396.49 186.82,396.49 186.95,396.49 187.08,396.49 187.22,396.49 187.35,396.49 187.48,396.49 187.61,396.49 187.75,396.49 187.88,396.49 188.01,396.49 188.14,396.49 188.27,396.49 188.41,396.49 188.54,396.49 188.67,396.49 188.80,396.49 188.94,396.49 189.07,396.49 189.20,396.49 189.33,396.49 189.46,396.49 189.60,396.49 189.73,396.49 189.86,396.49 189.99,396.49 190.13,396.49 190.26,396.49 190.39,396.49 190.52,396.49 190.65,396.49 190.79,396.49 190.92,396.49 191.05,396.49 191.18,396.49 191.32,396.49 191.45,396.49 191.58,396.49 191.71,396.49 191.84,396.49 191.98,396.49 192.11,396.49 192.24,396.49 192.37,396.49 192.51,396.49 192.64,396.49 192.77,396.49 192.90,396.49 193.04,396.49 193.17,396.49 193.30,396.49 193.43,396.49 193.56,396.49 193.70,396.49 193.83,396.49 193.96,396.49 194.09,396.49 194.23,396.49 194.36,396.49 194.49,396.49 194.62,396.49 194.75,396.49 194.89,396.49 195.02,396.49 195.15,396.49 195.28,396.49 195.42,396.49 195.55,396.49 195.68,396.49 195.81,396.49 195.94,396.49 196.08,396.49 196.21,396.49 196.34,396.49 196.47,396.49 196.61,396.48 196.74,396.48 196.87,396.48 197.00,396.48 197.13,396.48 197.27,396.48 197.40,396.48 197.53,396.48 197.66,396.48 197.80,396.47 197.93,396.47 198.06,396.47 198.19,396.46 198.33,396.46 198.46,396.46 198.59,396.45 198.72,396.44 198.85,396.43 198.99,396.42 199.12,396.39 199.25,396.36 199.38,396.29 199.52,396.19 199.65,396.04 199.78,395.84 199.91,395.58 200.04,395.29 200.18,395.01 200.31,394.78 200.44,394.70 200.57,394.78 200.71,395.01 200.84,395.29 200.97,395.58 201.10,395.84 201.23,396.04 201.37,396.19 201.50,396.29 201.63,396.36 201.76,396.39 201.90,396.42 202.03,396.43 202.16,396.44 202.29,396.45 202.42,396.46 202.56,396.46 202.69,396.46 202.82,396.47 202.95,396.47 203.09,396.47 203.22,396.48 203.35,396.48 203.48,396.48 203.62,396.48 203.75,396.48 203.88,396.48 204.01,396.48 204.14,396.48 204.28,396.48 204.41,396.49 204.54,396.49 204.67,396.49 204.81,396.49 204.94,396.49 205.07,396.49 205.20,396.49 205.33,396.49 205.47,396.49 205.60,396.49 205.73,396.49 205.86,396.49 206.00,396.49 206.13,396.49 206.26,396.49 206.39,396.49 206.52,396.49 206.66,396.49 206.79,396.49 206.92,396.49 207.05,396.49 207.19,396.49 207.32,396.49 207.45,396.49 207.58,396.49 207.71,396.49 207.85,396.49 207.98,396.49 208.11,396.49 208.24,396.49 208.38,396.49 208.51,396.49 208.64,396.49 208.77,396.49 208.91,396.49 209.04,396.49 209.17,396.49 209.30,396.49 209.43,396.49 209.57,396.49 209.70,396.49 209.83,396.49 209.96,396.49 210.10,396.49 210.23,396.49 210.36,396.49 210.49,396.49 210.62,396.49 210.76,396.49 210.89,396.49 211.02,396.49 211.15,396.49 211.29,396.49 211.42,396.49 211.55,396.49 211.68,396.49 211.81,396.49 211.95,396.49 212.08,396.48 212.21,396.48 212.34,396.48 212.48,396.48 212.61,396.48 212.74,396.48 212.87,396.48 213.00,396.47 213.14,396.47 213.27,396.47 213.40,396.46 213.53,396.45 213.67,396.44 213.80,396.42 213.93,396.38 214.06,396.33 214.20,396.24 214.33,396.13 214.46,395.99 214.59,395.83 214.72,395.67 214.86,395.54 214.99,395.50 215.12,395.54 215.25,395.67 215.39,395.83 215.52,395.99 215.65,396.13 215.78,396.24 215.91,396.33 216.05,396.38 216.18,396.42 216.31,396.44 216.44,396.45 216.58,396.46 216.71,396.47 216.84,396.47 216.97,396.47 217.10,396.48 217.24,396.48 217.37,396.48 217.50,396.48 217.63,396.48 217.77,396.48 217.90,396.48 218.03,396.49 218.16,396.49 218.29,396.49 218.43,396.49 218.56,396.49 218.69,396.49 218.82,396.49 218.96,396.49 219.09,396.49 219.22,396.49 219.35,396.49 219.49,396.49 219.62,396.49 219.75,396.49 219.88,396.49 220.01,396.49 220.15,396.49 220.28,396.49 220.41,396.49 220.54,396.49 220.68,396.49 220.81,396.49 220.94,396.49 221.07,396.49 221.20,396.49 221.34,396.49 221.47,396.49 221.60,396.49 221.73,396.49 221.87,396.49 222.00,396.49 222.13,396.49 222.26,396.49 222.39,396.49 222.53,396.49 222.66,396.49 222.79,396.49 222.92,396.49 223.06,396.49 223.19,396.49 223.32,396.49 223.45,396.49 223.58,396.49 223.72,396.49 223.85,396.49 223.98,396.49 224.11,396.49 224.25,396.49 224.38,396.49 224.51,396.49 224.64,396.49 224.78,396.49 224.91,396.49 225.04,396.49 225.17,396.49 225.30,396.49 225.44,396.49 225.57,396.49 225.70,396.49 225.83,396.49 225.97,396.49 226.10,396.49 226.23,396.49 226.36,396.49 226.49,396.49 226.63,396.49 226.76,396.49 226.89,396.49 227.02,396.49 227.16,396.49 227.29,396.49 227.42,396.49 227.55,396.49 227.68,396.49 227.82,396.49 227.95,396.49 228.08,396.49 228.21,396.49 228.35,396.49 228.48,396.49 228.61,396.49 228.74,396.49 228.87,396.49 229.01,396.49 229.14,396.49 229.27,396.49 229.40,396.49 229.54,396.49 229.67,396.49 229.80,396.49 229.93,396.49 230.07,396.49 230.20,396.49 230.33,396.49 230.46,396.49 230.59,396.49 230.73,396.49 230.86,396.49 230.99,396.48 231.12,396.48 231.26,396.48 231.39,396.48 231.52,396.48 231.65,396.48 231.78,396.48 231.92,396.48 232.05,396.48 232.18,396.48 232.31,396.48 232.45,396.48 232.58,396.48 232.71,396.48 232.84,396.47 232.97,396.47 233.11,396.47 233.24,396.47 233.37,396.47 233.50,396.47 233.64,396.46 233.77,396.46 233.90,396.46 234.03,396.46 234.16,396.45 234.30,396.45 234.43,396.45 234.56,396.44 234.69,396.44 234.83,396.43 234.96,396.43 235.09,396.42 235.22,396.41 235.36,396.40 235.49,396.39 235.62,396.37 235.75,396.35 235.88,396.32 236.02,396.28 236.15,396.21 236.28,396.10 236.41,395.93 236.55,395.65 236.68,395.24 236.81,394.67 236.94,393.96 237.07,393.15 237.21,392.35 237.34,391.73 237.47,391.49 237.60,391.73 237.74,392.35 237.87,393.15 238.00,393.96 238.13,394.67 238.26,395.23 238.40,395.65 238.53,395.93 238.66,396.10 238.79,396.21 238.93,396.28 239.06,396.32 239.19,396.35 239.32,396.37 239.45,396.38 239.59,396.40 239.72,396.41 239.85,396.42 239.98,396.42 240.12,396.43 240.25,396.43 240.38,396.44 240.51,396.44 240.65,396.45 240.78,396.45 240.91,396.45 241.04,396.46 241.17,396.46 241.31,396.46 241.44,396.46 241.57,396.46 241.70,396.46 241.84,396.47 241.97,396.47 242.10,396.47 242.23,396.47 242.36,396.47 242.50,396.47 242.63,396.47 242.76,396.47 242.89,396.47 243.03,396.47 243.16,396.47 243.29,396.47 243.42,396.47 243.55,396.47 243.69,396.47 243.82,396.48 243.95,396.48 244.08,396.48 244.22,396.48 244.35,396.48 244.48,396.48 244.61,396.48 244.74,396.48 244.88,396.48 245.01,396.48 245.14,396.48 245.27,396.48 245.41,396.48 245.54,396.47 245.67,396.47 245.80,396.47 245.94,396.47 246.07,396.47 246.20,396.47 246.33,396.47 246.46,396.47 246.60,396.47 246.73,396.47 246.86,396.47 246.99,396.47 247.13,396.47 247.26,396.47 247.39,396.47 247.52,396.47 247.65,396.47 247.79,396.47 247.92,396.47 248.05,396.46 248.18,396.46 248.32,396.46 248.45,396.46 248.58,396.46 248.71,396.46 248.84,396.46 248.98,396.46 249.11,396.45 249.24,396.45 249.37,396.45 249.51,396.45 249.64,396.45 249.77,396.44 249.90,396.44 250.03,396.44 250.17,396.44 250.30,396.43 250.43,396.43 250.56,396.43 250.70,396.42 250.83,396.42 250.96,396.41 251.09,396.41 251.23,396.40 251.36,396.40 251.49,396.39 251.62,396.38 251.75,396.38 251.89,396.37 252.02,396.36 252.15,396.34 252.28,396.33 252.42,396.31 252.55,396.30 252.68,396.28 252.81,396.25 252.94,396.23 253.08,396.19 253.21,396.15 253.34,396.11 253.47,396.04 253.61,395.96 253.74,395.83 253.87,395.62 254.00,395.28 254.13,394.73 254.27,393.87 254.40,392.59 254.53,390.84 254.66,388.64 254.80,386.13 254.93,383.66 255.06,381.73 255.19,380.99 255.32,381.73 255.46,383.66 255.59,386.13 255.72,388.63 255.85,390.83 255.99,392.58 256.12,393.86 256.25,394.72 256.38,395.27 256.52,395.61 256.65,395.82 256.78,395.94 256.91,396.03 257.04,396.09 257.18,396.14 257.31,396.18 257.44,396.21 257.57,396.23 257.71,396.26 257.84,396.27 257.97,396.29 258.10,396.30 258.23,396.31 258.37,396.32 258.50,396.33 258.63,396.34 258.76,396.34 258.90,396.34 259.03,396.35 259.16,396.35 259.29,396.35 259.42,396.34 259.56,396.34 259.69,396.33 259.82,396.33 259.95,396.32 260.09,396.30 260.22,396.28 260.35,396.25 260.48,396.21 260.61,396.14 260.75,396.02 260.88,395.83 261.01,395.52 261.14,395.07 261.28,394.45 261.41,393.67 261.54,392.79 261.67,391.91 261.81,391.23 261.94,390.97 262.07,391.23 262.20,391.92 262.33,392.79 262.47,393.68 262.60,394.47 262.73,395.09 262.86,395.54 263.00,395.85 263.13,396.04 263.26,396.16 263.39,396.24 263.52,396.29 263.66,396.32 263.79,396.34 263.92,396.36 264.05,396.37 264.19,396.38 264.32,396.39 264.45,396.40 264.58,396.41 264.71,396.41 264.85,396.42 264.98,396.43 265.11,396.43 265.24,396.43 265.38,396.44 265.51,396.44 265.64,396.44 265.77,396.44 265.90,396.45 266.04,396.45 266.17,396.45 266.30,396.45 266.43,396.45 266.57,396.45 266.70,396.45 266.83,396.45 266.96,396.45 267.10,396.45 267.23,396.44 267.36,396.44 267.49,396.44 267.62,396.43 267.76,396.42 267.89,396.41 268.02,396.38 268.15,396.34 268.29,396.27 268.42,396.18 268.55,396.04 268.68,395.87 268.81,395.68 268.95,395.49 269.08,395.34 269.21,395.28 269.34,395.34 269.48,395.49 269.61,395.68 269.74,395.88 269.87,396.05 270.00,396.18 270.14,396.28 270.27,396.35 270.40,396.39 270.53,396.42 270.67,396.43 270.80,396.44 270.93,396.45 271.06,396.46 271.19,396.46 271.33,396.46 271.46,396.47 271.59,396.47 271.72,396.47 271.86,396.47 271.99,396.47 272.12,396.48 272.25,396.48 272.39,396.48 272.52,396.48 272.65,396.48 272.78,396.48 272.91,396.48 273.05,396.48 273.18,396.48 273.31,396.48 273.44,396.48 273.58,396.48 273.71,396.48 273.84,396.49 273.97,396.49 274.10,396.49 274.24,396.49 274.37,396.49 274.50,396.49 274.63,396.49 274.77,396.49 274.90,396.49 275.03,396.49 275.16,396.49 275.29,396.49 275.43,396.49 275.56,396.49 275.69,396.49 275.82,396.49 275.96,396.49 276.09,396.49 276.22,396.49 276.35,396.49 276.48,396.49 276.62,396.49 276.75,396.49 276.88,396.49 277.01,396.49 277.15,396.49 277.28,396.49 277.41,396.49 277.54,396.49 277.68,396.49 277.81,396.49 277.94,396.49 278.07,396.49 278.20,396.49 278.34,396.49 278.47,396.49 278.60,396.49 278.73,396.49 278.87,396.49 279.00,396.49 279.13,396.49 279.26,396.49 279.39,396.49 279.53,396.49 279.66,396.49 279.79,396.48 279.92,396.48 280.06,396.48 280.19,396.48 280.32,396.48 280.45,396.48 280.58,396.48 280.72,396.48 280.85,396.47 280.98,396.47 281.11,396.47 281.25,396.47 281.38,396.46 281.51,396.45 281.64,396.44 281.77,396.43 281.91,396.40 282.04,396.36 282.17,396.29 282.30,396.19 282.44,396.06 282.57,395.89 282.70,395.69 282.83,395.50 282.97,395.35 283.10,395.30 283.23,395.35 283.36,395.50 283.49,395.69 283.63,395.89 283.76,396.06 283.89,396.19 284.02,396.29 284.16,396.36 284.29,396.40 284.42,396.43 284.55,396.44 284.68,396.45 284.82,396.46 284.95,396.47 285.08,396.47 285.21,396.47 285.35,396.48 285.48,396.48 285.61,396.48 285.74,396.48 285.87,396.48 286.01,396.48 286.14,396.49 286.27,396.49 286.40,396.49 286.54,396.49 286.67,396.49 286.80,396.49 286.93,396.49 287.06,396.49 287.20,396.49 287.33,396.49 287.46,396.49 287.59,396.49 287.73,396.49 287.86,396.49 287.99,396.49 288.12,396.49 288.26,396.49 288.39,396.49 288.52,396.49 288.65,396.49 288.78,396.49 288.92,396.49 289.05,396.49 289.18,396.49 289.31,396.49 289.45,396.49 289.58,396.49 289.71,396.49 289.84,396.49 289.97,396.50 290.11,396.50 290.24,396.50 290.37,396.50 290.50,396.50 290.64,396.50 290.77,396.50 290.90,396.50 291.03,396.50 291.16,396.50 291.30,396.50 291.43,396.50 291.56,396.50 291.69,396.50 291.83,396.50 291.96,396.50 292.09,396.50 292.22,396.50 292.35,396.50 292.49,396.50 292.62,396.50 292.75,396.50 292.88,396.50 293.02,396.50 293.15,396.50 293.28,396.50 293.41,396.50 293.55,396.50 293.68,396.50 293.81,396.50 293.94,396.50 294.07,396.50 294.21,396.50 294.34,396.50 294.47,396.50 294.60,396.50 294.74,396.50 294.87,396.50 295.00,396.50" stroke-width="1.2"/>
</g>
<g fill="none" stroke="#0a74d4" stroke-width="1.5" stroke-dasharray="5.3 3.78" stroke-dashoffset="8.28">
<path d="M40.150000000000006,34.7 H38.400000000000006 A3.2,3.2 0 0 0 35.2,37.900000000000006 V290.90000000000003 A3.2,3.2 0 0 0 38.400000000000006,294.1 H40.150000000000006"/>
<path d="M40.150000000000006,34.7 H41.9 A3.2,3.2 0 0 1 45.1,37.900000000000006 V290.90000000000003 A3.2,3.2 0 0 1 41.9,294.1 H40.150000000000006"/>
</g>
<g fill="none" stroke="#000" stroke-width="1.35">
<rect x="30.2" y="7.2" width="264.8" height="391.8"/>
<line x1="30.5" y1="104.9" x2="295" y2="104.9"/>
<line x1="30.5" y1="202.8" x2="295" y2="202.8"/>
<line x1="30.5" y1="301.3" x2="295" y2="301.3"/>
</g>
<g stroke="#000" stroke-width="1.1"><line x1="63.56" y1="399.0" x2="63.56" y2="397.0"/>
<line x1="96.62" y1="399.0" x2="96.62" y2="395.0"/>
<line x1="129.69" y1="399.0" x2="129.69" y2="397.0"/>
<line x1="162.75" y1="399.0" x2="162.75" y2="395.0"/>
<line x1="195.81" y1="399.0" x2="195.81" y2="397.0"/>
<line x1="228.88" y1="399.0" x2="228.88" y2="395.0"/>
<line x1="261.94" y1="399.0" x2="261.94" y2="397.0"/></g>
<g stroke="#f51a1a" stroke-width="1.3" fill="none">
<line x1="50.6" y1="65.8" x2="309.8" y2="48.9"/>
<polyline points="303.6,46.1 309.8,48.9 304.0,52.8"/>
</g>
<text stroke="#000" x="36.6" y="24.6" font-size="15.7">(a)</text>
<text stroke="#000" x="292.3" y="19.0" font-size="11" text-anchor="end" fill="#000">0.075 M Ga(NO<tspan font-size="6.20" dy="4.3">3</tspan><tspan dy="-4.3">)</tspan><tspan font-size="6.20" dy="4.3">3</tspan><tspan dy="-4.3">/0.5 M HMT</tspan></text>
<text stroke="#000" x="291.2" y="117.7" font-size="10.9" text-anchor="end" fill="#000">0.05 M Ga(NO<tspan font-size="6.20" dy="4.3">3</tspan><tspan dy="-4.3">)</tspan><tspan font-size="6.20" dy="4.3">3</tspan><tspan dy="-4.3">/0.5 M HMT</tspan></text>
<text stroke="#000" x="292.0" y="216.8" font-size="11" text-anchor="end" fill="#000">0.025 M Ga(NO<tspan font-size="6.20" dy="4.3">3</tspan><tspan dy="-4.3">)</tspan><tspan font-size="6.20" dy="4.3">3</tspan><tspan dy="-4.3">/0.5 M HMT</tspan></text>
<text stroke="#000" x="292" y="314.8" font-size="11" text-anchor="end">JCPDS no. 06-180 GaOOH</text>
<g fill="#f51a1a" stroke="#f51a1a" font-size="10.4">
<text x="50.8" y="143.2">(110)</text>
<text transform="translate(125.3,181.3) rotate(-90)">(130)</text>
<text transform="translate(149.2,177.8) rotate(-90)">(111)</text>
<text transform="translate(259.2,185.3) rotate(-90)">(240)</text>
</g>
<g font-size="10.5" text-anchor="middle">
<text stroke="#000" x="30.5" y="413.5">20</text>
<text stroke="#000" x="96.6" y="413.5">30</text>
<text stroke="#000" x="162.7" y="413.5">40</text>
<text stroke="#000" x="228.9" y="413.5">50</text>
<text stroke="#000" x="295" y="413.5">60</text>
</g>
<text stroke="#000" x="109.4" y="428.3" font-size="14.6">2 theta (degree)</text>
<text stroke="#000" transform="translate(15.2,246.9) rotate(-90)" font-size="14.4">Intensity (a.u.)</text>

<g fill="none" stroke-width="1.35" stroke-linejoin="round">
<path d="M317.60,95.00 C318.27,94.58 320.08,93.28 321.60,92.50 C323.12,91.72 324.78,90.88 326.70,90.30 C328.62,89.72 330.97,89.28 333.10,89.00 C335.23,88.72 337.17,88.67 339.50,88.60 C341.83,88.53 344.77,88.75 347.10,88.60 C349.43,88.45 351.38,88.22 353.50,87.70 C355.62,87.18 357.47,86.33 359.80,85.50 C362.13,84.67 364.95,83.55 367.50,82.70 C370.05,81.85 372.98,81.10 375.10,80.40 C377.22,79.70 378.63,79.37 380.20,78.50 C381.77,77.63 382.75,77.47 384.50,75.20 C386.25,72.93 388.63,69.02 390.70,64.90 C392.77,60.78 394.83,55.32 396.90,50.50 C398.97,45.68 401.03,40.65 403.10,36.00 C405.17,31.35 407.23,26.12 409.30,22.60 C411.37,19.08 413.62,16.52 415.50,14.90 C417.38,13.28 418.88,12.83 420.60,12.90 C422.32,12.97 423.90,13.52 425.80,15.30 C427.70,17.08 429.93,20.15 432.00,23.60 C434.07,27.05 436.13,31.35 438.20,36.00 C440.27,40.65 442.33,46.33 444.40,51.50 C446.47,56.67 448.53,62.53 450.60,67.00 C452.67,71.47 454.73,75.38 456.80,78.30 C458.87,81.22 461.43,82.92 463.00,84.50 C464.57,86.08 464.63,86.78 466.20,87.80 C467.77,88.82 470.47,90.00 472.40,90.60 C474.33,91.20 476.00,91.55 477.80,91.40 C479.60,91.25 481.27,90.60 483.20,89.70 C485.13,88.80 487.35,86.95 489.40,86.00 C491.45,85.05 493.45,84.27 495.50,84.00 C497.55,83.73 499.88,84.28 501.70,84.40 C503.52,84.52 504.58,84.85 506.40,84.70 C508.22,84.55 510.55,83.88 512.60,83.50 C514.65,83.12 516.90,82.50 518.70,82.40 C520.50,82.30 521.58,82.38 523.40,82.90 C525.22,83.42 527.10,84.38 529.60,85.50 C532.10,86.62 536.93,88.92 538.40,89.60" stroke="#1a1af5"/>
<path d="M317.40,188.50 C318.05,187.95 319.93,186.23 321.30,185.20 C322.67,184.17 324.15,183.20 325.60,182.30 C327.05,181.40 328.53,180.82 330.00,179.80 C331.47,178.78 332.82,177.42 334.40,176.20 C335.98,174.98 337.82,172.87 339.50,172.50 C341.18,172.13 343.05,173.82 344.50,174.00 C345.95,174.18 346.87,173.85 348.20,173.60 C349.53,173.35 351.05,172.43 352.50,172.50 C353.95,172.57 355.32,173.38 356.90,174.00 C358.48,174.62 360.42,175.95 362.00,176.20 C363.58,176.45 364.70,176.28 366.40,175.50 C368.10,174.72 370.02,173.20 372.20,171.50 C374.38,169.80 377.32,167.07 379.50,165.30 C381.68,163.53 383.62,161.90 385.30,160.90 C386.98,159.90 388.32,159.82 389.60,159.30 C390.88,158.78 391.55,159.43 393.00,157.80 C394.45,156.17 396.48,152.40 398.30,149.50 C400.12,146.60 402.05,144.07 403.90,140.40 C405.75,136.73 407.73,131.33 409.40,127.50 C411.07,123.67 412.38,120.00 413.90,117.40 C415.42,114.80 416.65,113.33 418.50,111.90 C420.35,110.47 423.17,109.10 425.00,108.80 C426.83,108.50 427.98,108.67 429.50,110.10 C431.02,111.53 432.57,114.50 434.10,117.40 C435.63,120.30 437.02,123.07 438.70,127.50 C440.38,131.93 442.22,138.80 444.20,144.00 C446.18,149.20 448.45,154.57 450.60,158.70 C452.75,162.83 454.95,167.00 457.10,168.80 C459.25,170.60 461.47,169.10 463.50,169.50 C465.53,169.90 466.80,170.27 469.30,171.20 C471.80,172.13 475.93,173.80 478.50,175.10 C481.07,176.40 482.63,177.85 484.70,179.00 C486.77,180.15 488.83,181.42 490.90,182.00 C492.97,182.58 495.03,182.10 497.10,182.50 C499.17,182.90 501.23,183.75 503.30,184.40 C505.37,185.05 507.57,185.83 509.50,186.40 C511.43,186.97 513.10,187.88 514.90,187.80 C516.70,187.72 518.12,186.60 520.30,185.90 C522.48,185.20 525.95,184.37 528.00,183.60 C530.05,182.83 530.87,182.63 532.60,181.30 C534.33,179.97 537.43,176.55 538.40,175.60" stroke="#f51a1a"/>
<path d="M317.60,280.50 C318.93,280.37 322.57,280.15 325.60,279.70 C328.63,279.25 332.40,278.35 335.80,277.80 C339.20,277.25 342.37,276.80 346.00,276.40 C349.63,276.00 353.72,275.82 357.60,275.40 C361.48,274.98 365.90,274.60 369.30,273.90 C372.70,273.20 375.13,273.02 378.00,271.20 C380.87,269.38 383.70,266.27 386.50,263.00 C389.30,259.73 392.05,255.73 394.80,251.60 C397.55,247.47 400.25,242.67 403.00,238.20 C405.75,233.73 408.55,228.48 411.30,224.80 C414.05,221.12 416.58,218.17 419.50,216.10 C422.42,214.03 426.05,212.68 428.80,212.40 C431.55,212.12 433.42,212.68 436.00,214.40 C438.58,216.12 441.53,219.25 444.30,222.70 C447.07,226.15 449.85,230.28 452.60,235.10 C455.35,239.92 458.53,246.93 460.80,251.60 C463.07,256.27 464.27,260.28 466.20,263.10 C468.13,265.92 470.35,266.95 472.40,268.50 C474.45,270.05 476.18,271.32 478.50,272.40 C480.82,273.48 483.47,274.23 486.30,275.00 C489.13,275.77 492.15,276.40 495.50,277.00 C498.85,277.60 502.53,278.25 506.40,278.60 C510.27,278.95 515.10,278.97 518.70,279.10 C522.30,279.23 524.72,279.23 528.00,279.40 C531.28,279.57 536.67,279.98 538.40,280.10" stroke="#000"/>
</g>
<rect x="317.1" y="6.9" width="221.7" height="294.0" fill="none" stroke="#4a4a4a" stroke-width="1.8"/>
<g stroke="#000" stroke-width="1.1"><line x1="354.22" y1="300.9" x2="354.22" y2="299.09999999999997"/>
<line x1="391.13" y1="300.9" x2="391.13" y2="297.2"/>
<line x1="428.05" y1="300.9" x2="428.05" y2="299.09999999999997"/>
<line x1="464.97" y1="300.9" x2="464.97" y2="297.2"/>
<line x1="501.88" y1="300.9" x2="501.88" y2="299.09999999999997"/></g>
<text stroke="#000" x="324.4" y="24.2" font-size="15.8">(b)</text>
<text stroke="#1a1af5" x="321.2" y="102.1" font-size="8.4" text-anchor="start" fill="#1a1af5" class="s">0.075 M Ga(NO<tspan font-size="8.00" dy="3.0">3</tspan><tspan dy="-3.0">)</tspan><tspan font-size="8.00" dy="3.0">3</tspan><tspan dy="-3.0">/0.5 M HMT</tspan></text>
<text stroke="#1a1af5" class="s" x="534.4" y="102.1" font-size="8.2" text-anchor="end" fill="#1a1af5">FWHM=745.056 arcsec</text>
<text stroke="#f51a1a" x="321.2" y="197.2" font-size="8.4" text-anchor="start" fill="#f51a1a" class="s">0.05 M Ga(NO<tspan font-size="8.00" dy="3.0">3</tspan><tspan dy="-3.0">)</tspan><tspan font-size="8.00" dy="3.0">3</tspan><tspan dy="-3.0">/0.5 M HMT</tspan></text>
<text stroke="#f51a1a" class="s" x="531.5" y="197.8" font-size="8.2" text-anchor="end" fill="#f51a1a">FWHM=759.704 arcsec</text>
<text stroke="#000" x="318.9" y="291.1" font-size="8.4" text-anchor="start" fill="#000" class="s">0.025 M Ga(NO<tspan font-size="8.00" dy="3.0">3</tspan><tspan dy="-3.0">)</tspan><tspan font-size="8.00" dy="3.0">3</tspan><tspan dy="-3.0">/0.5 M HMT</tspan></text>
<text stroke="#000" class="s" x="534.1" y="291.4" font-size="8.2" text-anchor="end" fill="#000">FWHM=878.004 arcsec</text>
<g font-size="9" text-anchor="middle">
<text stroke="#000" x="317" y="312">20.8</text>
<text stroke="#000" x="391.2" y="312">21.2</text>
<text stroke="#000" x="465" y="312">21.6</text>
<text stroke="#000" x="539.3" y="312">22.0</text>
</g>
<text stroke="#000" x="382.3" y="325.4" font-size="12.3">2 theta (degree)</text>
</svg>
</body></html>
